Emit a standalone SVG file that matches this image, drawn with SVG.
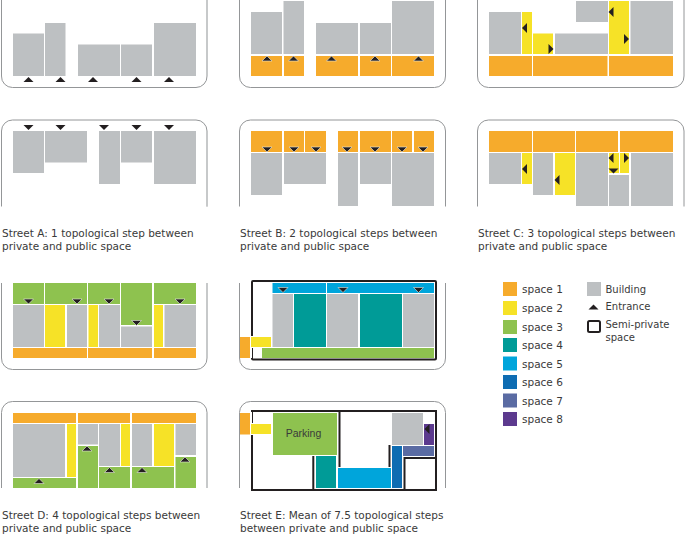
<svg xmlns="http://www.w3.org/2000/svg" width="685" height="535" viewBox="0 0 685 535">
<style>
.f{fill:none;stroke:#949698;stroke-width:1}
.fr{fill:none;stroke:#c6c8ca;stroke-width:1.5}
.b{fill:#bdc0c2}.s1{fill:#f6ab2c}.s2{fill:#f6e227}.s3{fill:#8ec24f}.s4{fill:#009b97}.s5{fill:#00a5db}.s6{fill:#0e6cb2}.s7{fill:#5a6ba3}.s8{fill:#5c3a8e}
.k{fill:none;stroke:#231f20;stroke-width:2}
.t{font-family:"DejaVu Sans",sans-serif;font-size:10.5px;fill:#3a3a3a}
.r{font-size:10px}
.p{font-family:"Liberation Sans",sans-serif;font-size:10.5px;fill:#3a3a3a;text-anchor:middle}
.h{fill:#231f20;stroke:#e8e8e0;stroke-width:.6}
.n{fill:#231f20}
</style>
<defs>
<path id="u" d="M-5,2.5L0,-2.5L5,2.5Z"/>
<path id="d" d="M-5,-2.5L0,2.5L5,-2.5Z"/>
<path id="l" d="M2.5,-5L-2.5,0L2.5,5Z"/>
<path id="r" d="M-2.5,-5L2.5,0L-2.5,5Z"/>
</defs>
<rect width="685" height="535" fill="#fff"/>
<g id="street-a-1">
<path class="f" d="M1.5,0V76A11,11 0 0 0 12.5,87.5H196A11,11 0 0 0 207,76V0"/>
<path class="fr" d="M207,0V76"/>
<rect class="b" x="13" y="33.5" width="31" height="42.5"/><rect class="b" x="45" y="23" width="20.5" height="53"/><rect class="b" x="78" y="44.5" width="42" height="31.5"/><rect class="b" x="121" y="44.5" width="31" height="31.5"/><rect class="b" x="154" y="23" width="42" height="53"/>
<g class="n"><use href="#u" x="28.5" y="79.5"/><use href="#u" x="60.5" y="79.5"/><use href="#u" x="93" y="79.5"/><use href="#u" x="136.5" y="79.5"/><use href="#u" x="169" y="79.5"/></g>
</g>
<g id="street-a-2">
<path class="f" d="M1.5,206.500V131A11,11 0 0 1 12.5,120H196A11,11 0 0 1 207,131V206.500"/>
<path class="fr" d="M207,131V206.500"/>
<rect class="b" x="13" y="131" width="31" height="42"/><rect class="b" x="45" y="131" width="42" height="31.5"/><rect class="b" x="99" y="131" width="21" height="53"/><rect class="b" x="121" y="131" width="31" height="31.5"/><rect class="b" x="154" y="131" width="42" height="53"/>
<g class="n"><use href="#d" x="28.5" y="127.5"/><use href="#d" x="60.5" y="127.5"/><use href="#d" x="104" y="127.5"/><use href="#d" x="136.5" y="127.5"/><use href="#d" x="169" y="127.5"/></g>
</g>
<g id="street-b-1">
<path class="f" d="M239.5,0V76A11,11 0 0 0 250.5,87.5H434.5A11,11 0 0 0 445.5,76V0"/>
<rect class="b" x="251" y="12" width="31" height="42"/><rect class="b" x="283.5" y="1" width="20.5" height="53"/><rect class="b" x="316" y="23" width="42" height="31"/><rect class="b" x="360" y="23" width="31" height="31"/><rect class="b" x="392" y="1" width="42" height="53"/>
<rect class="s1" x="251" y="56" width="31" height="20"/><rect class="s1" x="284" y="56" width="20" height="20"/><rect class="s1" x="316" y="56" width="42" height="20"/><rect class="s1" x="360" y="56" width="31" height="20"/><rect class="s1" x="392" y="56" width="42" height="20"/>
<g class="h"><use href="#u" x="267" y="58.5"/><use href="#u" x="293.5" y="58.5"/><use href="#u" x="331.5" y="58.5"/><use href="#u" x="375" y="58.5"/><use href="#u" x="418.5" y="58.5"/></g>
</g>
<g id="street-b-2">
<path class="f" d="M239.5,206.500V131A11,11 0 0 1 250.5,120H434.5A11,11 0 0 1 445.5,131V206.500"/>
<rect class="s1" x="251" y="131" width="31" height="21"/><rect class="s1" x="284" y="131" width="20" height="21"/><rect class="s1" x="305" y="131" width="21" height="21"/><rect class="s1" x="338" y="131" width="20" height="21"/><rect class="s1" x="360" y="131" width="31" height="21"/><rect class="s1" x="392" y="131" width="20" height="21"/><rect class="s1" x="414" y="131" width="20" height="21"/>
<rect class="b" x="251" y="153" width="31" height="42"/><rect class="b" x="284" y="153" width="42" height="31"/><rect class="b" x="338" y="153" width="20" height="53"/><rect class="b" x="360" y="153" width="31" height="31"/><rect class="b" x="392" y="153" width="42" height="53"/>
<g class="h"><use href="#d" x="267" y="149.5"/><use href="#d" x="294" y="149.5"/><use href="#d" x="316" y="149.5"/><use href="#d" x="347" y="149.5"/><use href="#d" x="375" y="149.5"/><use href="#d" x="402" y="149.5"/><use href="#d" x="423" y="149.5"/></g>
</g>
<g id="street-c-1">
<path class="f" d="M477.5,0V76A11,11 0 0 0 488.5,87.5H673A11,11 0 0 0 684,76V0"/>
<rect class="s1" x="489" y="56" width="43" height="20"/><rect class="s1" x="533" y="56" width="74.5" height="20"/><rect class="s1" x="609" y="56" width="64" height="20"/>
<rect class="b" x="489" y="12" width="32" height="42"/><rect class="b" x="576" y="1" width="32" height="21"/><rect class="b" x="555" y="33.5" width="53" height="20.5"/><rect class="b" x="630.5" y="1" width="42.5" height="53"/>
<rect class="s2" x="522" y="12" width="10" height="42"/><rect class="s2" x="533" y="33.5" width="20" height="20.5"/><rect class="s2" x="609" y="1" width="20" height="53"/>
<g class="n"><use href="#l" x="524.5" y="28"/><use href="#l" x="611" y="12"/><use href="#r" x="626.5" y="39"/><use href="#r" x="551" y="49"/></g>
</g>
<g id="street-c-2">
<path class="f" d="M477.5,206.500V131A11,11 0 0 1 488.5,120H673A11,11 0 0 1 684,131V206.500"/>
<rect class="s1" x="489" y="131" width="43" height="21"/><rect class="s1" x="533" y="131" width="42" height="21"/><rect class="s1" x="576" y="131" width="42" height="21"/><rect class="s1" x="620" y="131" width="53" height="21"/>
<rect class="b" x="489" y="153" width="32" height="31"/><rect class="b" x="533" y="153" width="20" height="42"/><rect class="b" x="576" y="153" width="32" height="53"/><rect class="b" x="609" y="175" width="20" height="31"/><rect class="b" x="631" y="153" width="42" height="53"/>
<rect class="s2" x="522" y="153" width="10" height="31"/><rect class="s2" x="555" y="153" width="20" height="42"/><rect class="s2" x="609" y="153" width="10" height="20"/><rect class="s2" x="620" y="153" width="9" height="20"/>
<g class="n"><use href="#l" x="524.5" y="169"/><use href="#l" x="557" y="180"/><use href="#l" x="611" y="158"/><use href="#r" x="626.5" y="158"/><use href="#d" x="613.5" y="171"/></g>
</g>
<g id="street-d-1">
<path class="f" d="M1.5,283V358A11,11 0 0 0 12.5,369.500H196A11,11 0 0 0 207,358V283"/>
<path class="fr" d="M207,283V358"/>
<rect class="s3" x="13" y="283" width="31" height="21"/><rect class="s3" x="45" y="283" width="42" height="21"/><rect class="s3" x="88" y="283" width="32" height="21"/><rect class="s3" x="121" y="283" width="31" height="42"/><rect class="s3" x="154" y="283" width="42" height="21"/>
<rect class="b" x="13" y="305" width="31" height="42"/><rect class="s2" x="45" y="305" width="20" height="42"/><rect class="b" x="67" y="305" width="20" height="42"/><rect class="s2" x="88.5" y="305" width="9.5" height="42"/><rect class="b" x="99" y="305" width="21" height="42"/><rect class="b" x="121" y="326.5" width="31" height="20.5"/><rect class="s2" x="154" y="305" width="9" height="42"/><rect class="b" x="164.5" y="305" width="31.5" height="42"/>
<rect class="s1" x="13" y="348" width="74" height="10"/><rect class="s1" x="88" y="348" width="64" height="10"/><rect class="s1" x="154" y="348" width="42" height="10"/>
<g class="h"><use href="#d" x="28.5" y="301.5"/><use href="#d" x="77" y="301.5"/><use href="#d" x="109" y="301.5"/><use href="#d" x="136.5" y="323"/><use href="#d" x="180" y="301.5"/></g>
</g>
<g id="street-d-2">
<path class="f" d="M1.5,488V412.500A11,11 0 0 1 12.5,401.500H196A11,11 0 0 1 207,412.500V488"/>
<path class="fr" d="M207,412.500V488"/>
<rect class="s1" x="13" y="413" width="63" height="10"/><rect class="s1" x="78" y="413" width="52" height="10"/><rect class="s1" x="132" y="413" width="64" height="10"/>
<rect class="b" x="13" y="424" width="52" height="53"/><rect class="s2" x="67" y="424" width="9" height="53"/><rect class="s3" x="13" y="478" width="63" height="10"/>
<rect class="b" x="78" y="424" width="20" height="20.5"/><rect class="s3" x="78" y="446" width="20" height="42"/>
<rect class="b" x="99" y="424" width="21" height="42"/><rect class="s2" x="121" y="424" width="9" height="42"/><rect class="s3" x="99" y="467" width="31" height="21"/>
<rect class="b" x="132" y="424" width="20" height="42"/><rect class="s2" x="154" y="424" width="20" height="42"/><rect class="s3" x="132" y="467" width="42" height="21"/>
<rect class="b" x="175.5" y="424" width="20.5" height="31"/><rect class="s3" x="175.5" y="457" width="20.5" height="31"/>
<g class="h"><use href="#u" x="39" y="481"/><use href="#u" x="87" y="448.5"/><use href="#u" x="109.5" y="470"/><use href="#u" x="142" y="470"/><use href="#u" x="185" y="459.5"/></g>
</g>
<g id="street-e-1">
<path class="f" d="M239.5,283V358A11,11 0 0 0 250.5,369.500H434.5A11,11 0 0 0 445.5,358V283"/>
<rect class="s5" x="272.5" y="283" width="53.5" height="10"/><rect class="s5" x="327" y="283" width="107" height="10"/>
<rect class="b" x="272.5" y="294" width="20.5" height="53"/><rect class="s4" x="294" y="294" width="32" height="53"/><rect class="b" x="327" y="294" width="31" height="53"/><rect class="s4" x="360" y="294" width="42" height="53"/><rect class="b" x="403" y="294" width="31" height="53"/>
<rect class="s3" x="262" y="348" width="172" height="10"/>
<rect class="k" x="252" y="281" width="184" height="78.5" rx="1"/>
<rect x="240" y="337" width="12" height="21" fill="#fff"/><rect class="s1" x="240" y="337" width="10" height="21"/><rect x="250" y="336" width="22" height="12" fill="#fff"/><rect class="s2" x="251" y="337" width="20" height="10"/>
<g class="h"><use href="#d" x="283" y="290"/><use href="#d" x="343" y="290"/><use href="#d" x="418.5" y="290"/></g>
</g>
<g id="street-e-2">
<path class="f" d="M239.5,488V412.500A11,11 0 0 1 250.5,401.500H434.5A11,11 0 0 1 445.5,412.500V488"/>
<path class="k" d="M252,411H436V490H252ZM339.5,411V467M313.300,456V490M389.5,445V467M404.5,490V458H436"/>
<rect x="250" y="423" width="22" height="12" fill="#fff"/><rect x="240" y="412" width="12" height="23" fill="#fff"/>
<rect class="s1" x="240" y="413" width="10" height="21.5"/><rect class="s2" x="251" y="424" width="20" height="10"/>
<rect class="s3" x="273" y="413" width="64" height="42"/>
<rect class="s4" x="316" y="456" width="20" height="32"/><rect class="s5" x="338" y="468" width="53" height="20"/><rect class="s6" x="392" y="446" width="10" height="42"/><rect class="s7" x="403" y="446" width="31" height="10"/><rect class="b" x="392" y="413" width="31" height="32"/><rect class="s8" x="424" y="424" width="10" height="21"/>
<g class="n"><use href="#l" x="427" y="429"/></g>
<text class="p" x="303.500" y="436.700">Parking</text>
</g>
<g id="captions">
<text class="t" x="2" y="236.500">Street A: 1 topological step between</text><text class="t" x="2" y="250">private and public space</text>
<text class="t" x="240" y="236.500">Street B: 2 topological steps between</text><text class="t" x="240" y="250">private and public space</text>
<text class="t" x="478" y="236.500">Street C: 3 topological steps between</text><text class="t" x="478" y="250">private and public space</text>
<text class="t" x="2" y="518.500">Street D: 4 topological steps between</text><text class="t" x="2" y="532">private and public space</text>
<text class="t" x="240" y="518.500">Street E: Mean of 7.5 topological steps</text><text class="t" x="240" y="532">between private and public space</text>
</g>
<g id="legend">
<rect class="s1" x="503" y="282" width="14" height="14"/><text class="t" x="522" y="293">space 1</text>
<rect class="s2" x="503" y="301" width="14" height="14"/><text class="t" x="522" y="312">space 2</text>
<rect class="s3" x="503" y="320" width="14" height="14"/><text class="t" x="522" y="331">space 3</text>
<rect class="s4" x="503" y="338" width="14" height="14"/><text class="t" x="522" y="349">space 4</text>
<rect class="s5" x="503" y="356.500" width="14" height="14"/><text class="t" x="522" y="367.500">space 5</text>
<rect class="s6" x="503" y="375" width="14" height="14"/><text class="t" x="522" y="386">space 6</text>
<rect class="s7" x="503" y="393.500" width="14" height="14"/><text class="t" x="522" y="404.500">space 7</text>
<rect class="s8" x="503" y="412" width="14" height="14"/><text class="t" x="522" y="423">space 8</text>
<rect class="b" x="587" y="282" width="14" height="14"/><text class="t r" x="605.500" y="293">Building</text>
<g class="n"><use href="#u" x="593.500" y="307"/></g><text class="t r" x="605.500" y="310">Entrance</text>
<rect class="k" x="588" y="321" width="12" height="11" rx="1.500"/><text class="t r" x="605.500" y="328">Semi-private</text><text class="t r" x="605.500" y="341">space</text>
</g>
</svg>
